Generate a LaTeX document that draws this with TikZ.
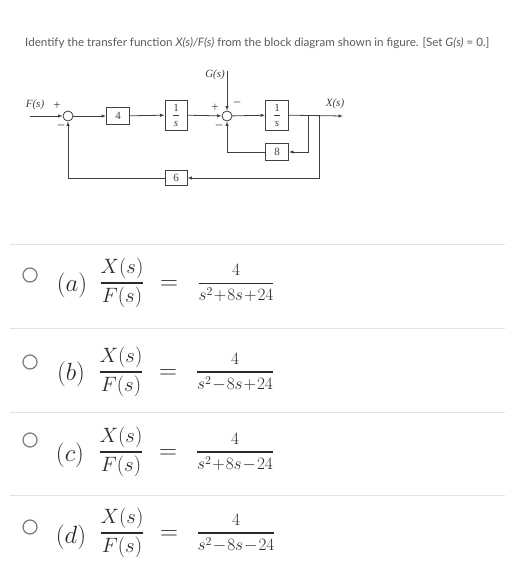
\documentclass[tikz,border=0pt]{standalone}
\usepackage{amsmath}
\usepackage{fontspec}
\newfontfamily\titlefont{Lato}
\newfontfamily\diagfont{Liberation Serif}
\definecolor{qText}{HTML}{5A5A5A}
\definecolor{qLine}{HTML}{404040}
\definecolor{qRule}{HTML}{E2E2E2}
\definecolor{qRadio}{HTML}{7A7A7A}
\definecolor{qMath}{HTML}{2A2A2A}
\usetikzlibrary{arrows.meta}

\begin{document}
\begin{tikzpicture}[x=1pt,y=-1pt,
  blk/.style={draw=qLine,line width=0.8pt,minimum width=23pt,minimum height=17pt,inner sep=0pt,
              font=\diagfont\fontsize{11}{13}\selectfont,text=qLine},
  sumnode/.style={circle,draw=qLine,line width=0.8pt,minimum size=10pt,inner sep=0pt},
  sig/.style={draw=qLine,line width=0.8pt,-{Latex[length=4.5pt,width=3.4pt]}},
  sgn/.style={font=\diagfont\fontsize{13}{14}\selectfont,inner sep=0pt,text=qLine},
  lbl/.style={font=\diagfont\itshape\fontsize{11}{13}\selectfont,inner sep=0pt,text=qLine},
  radio/.style={circle,draw=qRadio,line width=1.2pt,minimum size=14pt,inner sep=0pt},
  optlbl/.style={font=\fontsize{28}{32}\selectfont,text=qMath,inner sep=0pt},
  ratio/.style={font=\fontsize{21}{25}\selectfont,text=qMath,inner sep=0pt},
  eqsign/.style={font=\fontsize{24}{28}\selectfont,text=qMath,inner sep=0pt},
  rhs/.style={font=\fontsize{18.5}{22}\selectfont,text=qMath,inner sep=0pt},
  sepline/.style={draw=qRule,line width=1pt}
]
\fill[white] (0,0) rectangle (518,575);
\useasboundingbox (0,0) rectangle (518,575);

% question
\node[anchor=west,inner sep=0pt,text=qText,font=\titlefont\fontsize{11.6}{14}\selectfont] (title) at (25,43)
  {Identify the transfer function \textit{X(s)/F(s)} from the block diagram shown in figure. [Set \textit{G(s)} = 0.]};

% block diagram
\node[sumnode] (sumA) at (68,116) {};
\node[blk] (gainA) at (118,116) {4};
\node[blk,minimum width=22pt,minimum height=30pt] (intA) at (176,115) {$\genfrac{}{}{0.6pt}{0}{\text{1}}{\text{\itshape s}}$};
\node[sumnode] (sumB) at (227,116) {};
\node[blk,minimum width=23pt,minimum height=30pt] (intB) at (277,115) {$\genfrac{}{}{0.6pt}{0}{\text{1}}{\text{\itshape s}}$};
\node[blk] (gainB) at (277,152) {8};
\node[blk,minimum width=22pt,minimum height=15pt] (gainC) at (176,178) {6};
\coordinate (fin) at (30,116);
\coordinate (xout) at (343,116);
\coordinate (gin) at (227,71);
\coordinate (tapA) at (308,116);
\coordinate (tapB) at (319,116);

\node[lbl] (flab) at (35,105) {F(s)};
\node[lbl] (xlab) at (335,104) {X(s)};
\node[lbl,anchor=east] (glab) at (225,75) {G(s)};
\node[sgn] (pA) at (57,106) {+};
\node[sgn] (mA) at (61,127) {\textendash};
\node[sgn] (pB) at (215,108) {+};
\node[sgn] (mB) at (237,104) {\textendash};
\node[sgn] (nB) at (219,127) {\textendash};

\draw[sig] (fin) -- (sumA);
\draw[sig] (sumA) -- (gainA);
\draw[sig] (gainA) -- (intA);
\draw[sig] (intA) -- (sumB);
\draw[sig] (sumB) -- (intB);
\draw[sig] (intB) -- (xout);
\draw[sig] (gin) -- (sumB);
\draw[sig] (tapA) |- (gainB);
\draw[sig] (gainB) -| (sumB);
\draw[sig] (tapB) |- (gainC);
\draw[sig] (gainC) -| (sumA);

% answers
\draw[sepline] (10,244) -- (505,244);
\draw[sepline] (10,328) -- (505,328);
\draw[sepline] (10,412) -- (505,412);
\draw[sepline] (10,495) -- (505,495);

\node[radio] (radA) at (30,275) {};
\node[optlbl] (optA) at (72,285) {$(a)$};
\node[ratio] (lhsA) at (122,283) {$\genfrac{}{}{1.2pt}{0}{X(s)}{F(s)}$};
\node[eqsign] (eqA) at (169,285) {$=$};
\node[rhs] (rhsA) at (236,283) {$\genfrac{}{}{1.2pt}{0}{4}{s^2\!+\!8s\!+\!24}$};

\node[radio] (radB) at (30,362) {};
\node[optlbl] (optB) at (71,374) {$(b)$};
\node[ratio] (lhsB) at (121,372) {$\genfrac{}{}{1.2pt}{0}{X(s)}{F(s)}$};
\node[eqsign] (eqB) at (168,374) {$=$};
\node[rhs] (rhsB) at (235,372) {$\genfrac{}{}{1.2pt}{0}{4}{s^2\!-\!8s\!+\!24}$};

\node[radio] (radC) at (30,440) {};
\node[optlbl] (optC) at (70,455) {$(c)$};
\node[ratio] (lhsC) at (121,452) {$\genfrac{}{}{1.2pt}{0}{X(s)}{F(s)}$};
\node[eqsign] (eqC) at (168,454) {$=$};
\node[rhs] (rhsC) at (235,452) {$\genfrac{}{}{1.2pt}{0}{4}{s^2\!+\!8s\!-\!24}$};

\node[radio] (radD) at (30,527) {};
\node[optlbl] (optD) at (71,537) {$(d)$};
\node[ratio] (lhsD) at (122,533) {$\genfrac{}{}{1.2pt}{0}{X(s)}{F(s)}$};
\node[eqsign] (eqD) at (169,535) {$=$};
\node[rhs] (rhsD) at (236,533) {$\genfrac{}{}{1.2pt}{0}{4}{s^2\!-\!8s\!-\!24}$};
\end{tikzpicture}
\end{document}
